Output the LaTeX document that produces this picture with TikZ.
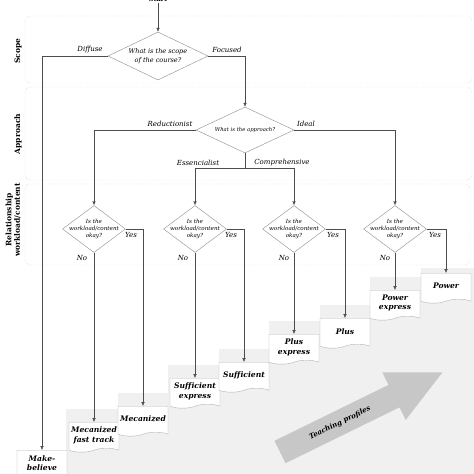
\documentclass[tikz,border=0pt]{standalone}
\usepackage{fontspec}
\setmainfont{DejaVu Serif}
\usetikzlibrary{shapes.geometric,shapes.symbols,arrows.meta}

\tikzset{
  band/.style={draw=black!22, densely dotted, rounded corners=5pt},
  lane/.style={font=\bfseries\fontsize{7.5}{8.5}\selectfont, rotate=90, align=center, inner sep=0pt},
  ask/.style={diamond, draw=black!45, fill=white, inner sep=0pt},
  asktext/.style={font=\itshape\fontsize{5.6}{6.7}\selectfont, align=center, inner sep=0pt},
  profile/.style={tape, tape bend top=none, tape bend height=4pt, draw=black!30, fill=white,
    minimum width=50pt, minimum height=30pt, inner sep=1pt, align=center,
    font=\bfseries\itshape\fontsize{7.6}{9.5}\selectfont, anchor=north},
  lbl/.style={font=\itshape\fontsize{7}{8}\selectfont, inner sep=1pt},
  flow/.style={draw=black!70, -{Latex[length=4pt,width=3.5pt]}},
}

\begin{document}
\begin{tikzpicture}[x=1pt,y=-1pt]
\useasboundingbox (0,0) rectangle (474,474);

% lanes
\draw[band] (25,16) rectangle (472,83);
\draw[band] (25,87) rectangle (472,180);
\draw[band] (25,184) rectangle (470,265);
\node[lane] (scope) at (18,51) {Scope};
\node[lane] (approach) at (18,134) {Approach};
\node[lane] (relation) at (13,220) {Relationship\\workload/content};

% staircase behind the profiles
\fill[black!6] (66,474) -- (66,409) -- (118,409) -- (118,393) -- (168,393) -- (168,365)
  -- (219,365) -- (219,349) -- (269,349) -- (269,321) -- (320,321) -- (320,305)
  -- (370,305) -- (370,277) -- (421,277) -- (421,268) -- (474,268) -- (474,474) -- cycle;

% teaching profiles arrow
\fill[black!22] (274.5,440.8) -- (388.5,384.9) -- (382.3,372.3) -- (442.5,372.3)
  -- (405.7,419.9) -- (399.5,407.3) -- (285.5,463.2) -- cycle;
\node[font=\bfseries\itshape\fontsize{7}{8}\selectfont, rotate=26] (teach) at (340,423) {Teaching profiles};

% questions
\node[font=\bfseries\fontsize{6.5}{7}\selectfont, inner sep=1pt] (start) at (158,-1) {Start};
\node[ask, minimum width=100pt, minimum height=48pt] (scopeq) at (158,56) {};
\node[asktext, font=\itshape\fontsize{6.5}{9}\selectfont] (scopet) at (scopeq) {What is the scope\\of the course?};
\node[ask, minimum width=98pt, minimum height=46pt] (apprq) at (245,130) {};
\node[asktext, font=\itshape\fontsize{5.3}{6}\selectfont] (apprt) at (apprq) {What is the approach?};

\node[ask, minimum width=63pt, minimum height=47pt] (q1) at (94,229) {};
\node[ask, minimum width=63pt, minimum height=47pt] (q2) at (195,229) {};
\node[ask, minimum width=63pt, minimum height=47pt] (q3) at (294,229) {};
\node[ask, minimum width=63pt, minimum height=47pt] (q4) at (395,229) {};
\node[asktext] (q1t) at (q1) {Is the\\workload/content\\okay?};
\node[asktext] (q2t) at (q2) {Is the\\workload/content\\okay?};
\node[asktext] (q3t) at (q3) {Is the\\workload/content\\okay?};
\node[asktext] (q4t) at (q4) {Is the\\workload/content\\okay?};

% profiles
\node[profile] (mkb) at (42,450) {Make-\\believe};
\node[profile] (mft) at (94,422) {Mecanized\\fast track};
\node[profile] (mec) at (143,406) {Mecanized};
\node[profile] (sfe) at (195,378) {Sufficient\\express};
\node[profile] (suf) at (244,362) {Sufficient};
\node[profile] (ple) at (294,334) {Plus\\express};
\node[profile] (plu) at (345,318) {Plus};
\node[profile] (pwe) at (395,290) {Power\\express};
\node[profile] (pow) at (446,273) {Power};

% connectors
\draw[flow] (start) -- (scopeq.north);
\draw[flow] (scopeq.west) -| (mkb.north);
\draw[flow] (scopeq.east) -| (apprq.north);
\draw[flow] (apprq.west) -| (q1.north);
\draw[flow] (apprq.east) -| (q4.north);
\coordinate (split) at (245,168);
\draw[draw=black!70] (apprq.south) -- (split);
\draw[flow] (split) -| (q2.north);
\draw[flow] (split) -| (q3.north);

\draw[flow] (q1.south) -- (mft.north);
\draw[flow] (q1.east) -| (mec.north);
\draw[flow] (q2.south) -- (sfe.north);
\draw[flow] (q2.east) -| (suf.north);
\draw[flow] (q3.south) -- (ple.north);
\draw[flow] (q3.east) -| (plu.north);
\draw[flow] (q4.south) -- (pwe.north);
\draw[flow] (q4.east) -| (pow.north);

% labels
\node[lbl] (diffuse) at (90,50) {Diffuse};
\node[lbl] (focused) at (227,50) {Focused};
\node[lbl] (reduct) at (170,124) {Reductionist};
\node[lbl] (ideal) at (306,124) {Ideal};
\node[lbl] (essen) at (198,163) {Essencialist};
\node[lbl] (compr) at (282,163) {Comprehensive};
\node[lbl] (yes1) at (131,235) {Yes};
\node[lbl] (yes2) at (231,235) {Yes};
\node[lbl] (yes3) at (333,235) {Yes};
\node[lbl] (yes4) at (435,235) {Yes};
\node[lbl] (no1) at (82,258) {No};
\node[lbl] (no2) at (183,258) {No};
\node[lbl] (no3) at (284,258) {No};
\node[lbl] (no4) at (385,258) {No};
\end{tikzpicture}
\end{document}
